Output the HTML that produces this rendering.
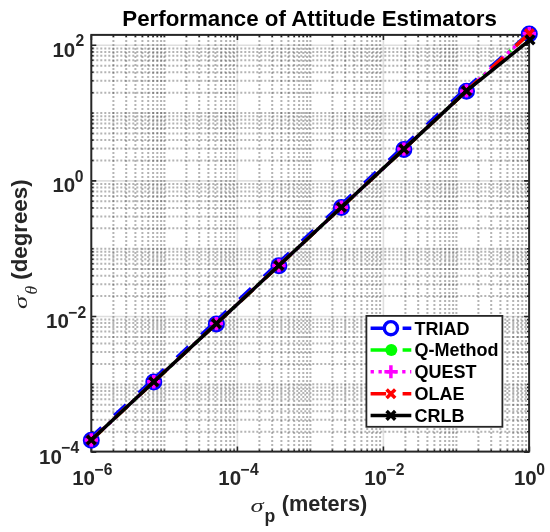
<!DOCTYPE html>
<html><head><meta charset="utf-8"><title>Performance of Attitude Estimators</title>
<style>html,body{margin:0;padding:0;background:#fff}svg{display:block}text{font-family:"Liberation Sans",sans-serif;font-weight:bold;fill:#262626}.g{font-family:"Liberation Serif",serif;font-style:italic;font-weight:normal}</style></head><body>
<svg width="550" height="532" viewBox="0 0 550 532">
<rect width="550" height="532" fill="#fff"/>
<path d="M237.4 34.9V451.6M383.4 34.9V451.6M91.3 316.5H529.1M91.3 180.9H529.1M91.3 45.3H529.1" stroke="#dedede" stroke-width="1.6" fill="none"/>
<path d="M113.4 35.9V450.6M126.2 35.9V450.6M135.4 35.9V450.6M142.4 35.9V450.6M148.2 35.9V450.6M153.1 35.9V450.6M157.3 35.9V450.6M161.1 35.9V450.6M164.4 35.9V450.6M186.4 35.9V450.6M199.2 35.9V450.6M208.4 35.9V450.6M215.4 35.9V450.6M221.2 35.9V450.6M226.1 35.9V450.6M230.3 35.9V450.6M234.1 35.9V450.6M259.4 35.9V450.6M272.2 35.9V450.6M281.4 35.9V450.6M288.4 35.9V450.6M294.2 35.9V450.6M299.1 35.9V450.6M303.3 35.9V450.6M307.1 35.9V450.6M310.4 35.9V450.6M332.4 35.9V450.6M345.2 35.9V450.6M354.4 35.9V450.6M361.4 35.9V450.6M367.2 35.9V450.6M372.1 35.9V450.6M376.3 35.9V450.6M380.1 35.9V450.6M405.4 35.9V450.6M418.2 35.9V450.6M427.4 35.9V450.6M434.4 35.9V450.6M440.2 35.9V450.6M445.1 35.9V450.6M449.3 35.9V450.6M453.1 35.9V450.6M456.4 35.9V450.6M478.4 35.9V450.6M491.2 35.9V450.6M500.4 35.9V450.6M507.4 35.9V450.6M513.2 35.9V450.6M518.1 35.9V450.6M522.3 35.9V450.6M526.1 35.9V450.6" stroke="#1a1a1a" stroke-width="2" stroke-dasharray="2 2" stroke-opacity="0.33" fill="none"/>
<path d="M92.3 431.7H528.1M92.3 419.8H528.1M92.3 411.3H528.1M92.3 404.7H528.1M92.3 399.3H528.1M92.3 394.8H528.1M92.3 390.9H528.1M92.3 387.4H528.1M92.3 384.3H528.1M92.3 363.9H528.1M92.3 352.0H528.1M92.3 343.5H528.1M92.3 336.9H528.1M92.3 331.5H528.1M92.3 327.0H528.1M92.3 323.1H528.1M92.3 319.6H528.1M92.3 296.1H528.1M92.3 284.2H528.1M92.3 275.7H528.1M92.3 269.1H528.1M92.3 263.7H528.1M92.3 259.2H528.1M92.3 255.3H528.1M92.3 251.8H528.1M92.3 248.7H528.1M92.3 228.3H528.1M92.3 216.4H528.1M92.3 207.9H528.1M92.3 201.3H528.1M92.3 195.9H528.1M92.3 191.4H528.1M92.3 187.5H528.1M92.3 184.0H528.1M92.3 160.5H528.1M92.3 148.6H528.1M92.3 140.1H528.1M92.3 133.5H528.1M92.3 128.1H528.1M92.3 123.6H528.1M92.3 119.7H528.1M92.3 116.2H528.1M92.3 113.1H528.1M92.3 92.7H528.1M92.3 80.8H528.1M92.3 72.3H528.1M92.3 65.7H528.1M92.3 60.3H528.1M92.3 55.8H528.1M92.3 51.9H528.1M92.3 48.4H528.1" stroke="#1a1a1a" stroke-width="2" stroke-dasharray="2 2" stroke-opacity="0.33" fill="none"/>
<path d="M91.4 451.6v-5.0M91.4 34.9v5.0M113.4 451.6v-2.2M113.4 34.9v2.2M126.2 451.6v-2.2M126.2 34.9v2.2M135.4 451.6v-2.2M135.4 34.9v2.2M142.4 451.6v-2.2M142.4 34.9v2.2M148.2 451.6v-2.2M148.2 34.9v2.2M153.1 451.6v-2.2M153.1 34.9v2.2M157.3 451.6v-2.2M157.3 34.9v2.2M161.1 451.6v-2.2M161.1 34.9v2.2M164.4 451.6v-2.2M164.4 34.9v2.2M186.4 451.6v-2.2M186.4 34.9v2.2M199.2 451.6v-2.2M199.2 34.9v2.2M208.4 451.6v-2.2M208.4 34.9v2.2M215.4 451.6v-2.2M215.4 34.9v2.2M221.2 451.6v-2.2M221.2 34.9v2.2M226.1 451.6v-2.2M226.1 34.9v2.2M230.3 451.6v-2.2M230.3 34.9v2.2M234.1 451.6v-2.2M234.1 34.9v2.2M237.4 451.6v-5.0M237.4 34.9v5.0M259.4 451.6v-2.2M259.4 34.9v2.2M272.2 451.6v-2.2M272.2 34.9v2.2M281.4 451.6v-2.2M281.4 34.9v2.2M288.4 451.6v-2.2M288.4 34.9v2.2M294.2 451.6v-2.2M294.2 34.9v2.2M299.1 451.6v-2.2M299.1 34.9v2.2M303.3 451.6v-2.2M303.3 34.9v2.2M307.1 451.6v-2.2M307.1 34.9v2.2M310.4 451.6v-2.2M310.4 34.9v2.2M332.4 451.6v-2.2M332.4 34.9v2.2M345.2 451.6v-2.2M345.2 34.9v2.2M354.4 451.6v-2.2M354.4 34.9v2.2M361.4 451.6v-2.2M361.4 34.9v2.2M367.2 451.6v-2.2M367.2 34.9v2.2M372.1 451.6v-2.2M372.1 34.9v2.2M376.3 451.6v-2.2M376.3 34.9v2.2M380.1 451.6v-2.2M380.1 34.9v2.2M383.4 451.6v-5.0M383.4 34.9v5.0M405.4 451.6v-2.2M405.4 34.9v2.2M418.2 451.6v-2.2M418.2 34.9v2.2M427.4 451.6v-2.2M427.4 34.9v2.2M434.4 451.6v-2.2M434.4 34.9v2.2M440.2 451.6v-2.2M440.2 34.9v2.2M445.1 451.6v-2.2M445.1 34.9v2.2M449.3 451.6v-2.2M449.3 34.9v2.2M453.1 451.6v-2.2M453.1 34.9v2.2M456.4 451.6v-2.2M456.4 34.9v2.2M478.4 451.6v-2.2M478.4 34.9v2.2M491.2 451.6v-2.2M491.2 34.9v2.2M500.4 451.6v-2.2M500.4 34.9v2.2M507.4 451.6v-2.2M507.4 34.9v2.2M513.2 451.6v-2.2M513.2 34.9v2.2M518.1 451.6v-2.2M518.1 34.9v2.2M522.3 451.6v-2.2M522.3 34.9v2.2M526.1 451.6v-2.2M526.1 34.9v2.2M529.4 451.6v-5.0M529.4 34.9v5.0M91.3 452.1h5.0M529.1 452.1h-5.0M91.3 431.7h2.2M529.1 431.7h-2.2M91.3 419.8h2.2M529.1 419.8h-2.2M91.3 411.3h2.2M529.1 411.3h-2.2M91.3 404.7h2.2M529.1 404.7h-2.2M91.3 399.3h2.2M529.1 399.3h-2.2M91.3 394.8h2.2M529.1 394.8h-2.2M91.3 390.9h2.2M529.1 390.9h-2.2M91.3 387.4h2.2M529.1 387.4h-2.2M91.3 384.3h2.2M529.1 384.3h-2.2M91.3 363.9h2.2M529.1 363.9h-2.2M91.3 352.0h2.2M529.1 352.0h-2.2M91.3 343.5h2.2M529.1 343.5h-2.2M91.3 336.9h2.2M529.1 336.9h-2.2M91.3 331.5h2.2M529.1 331.5h-2.2M91.3 327.0h2.2M529.1 327.0h-2.2M91.3 323.1h2.2M529.1 323.1h-2.2M91.3 319.6h2.2M529.1 319.6h-2.2M91.3 316.5h5.0M529.1 316.5h-5.0M91.3 296.1h2.2M529.1 296.1h-2.2M91.3 284.2h2.2M529.1 284.2h-2.2M91.3 275.7h2.2M529.1 275.7h-2.2M91.3 269.1h2.2M529.1 269.1h-2.2M91.3 263.7h2.2M529.1 263.7h-2.2M91.3 259.2h2.2M529.1 259.2h-2.2M91.3 255.3h2.2M529.1 255.3h-2.2M91.3 251.8h2.2M529.1 251.8h-2.2M91.3 248.7h2.2M529.1 248.7h-2.2M91.3 228.3h2.2M529.1 228.3h-2.2M91.3 216.4h2.2M529.1 216.4h-2.2M91.3 207.9h2.2M529.1 207.9h-2.2M91.3 201.3h2.2M529.1 201.3h-2.2M91.3 195.9h2.2M529.1 195.9h-2.2M91.3 191.4h2.2M529.1 191.4h-2.2M91.3 187.5h2.2M529.1 187.5h-2.2M91.3 184.0h2.2M529.1 184.0h-2.2M91.3 180.9h5.0M529.1 180.9h-5.0M91.3 160.5h2.2M529.1 160.5h-2.2M91.3 148.6h2.2M529.1 148.6h-2.2M91.3 140.1h2.2M529.1 140.1h-2.2M91.3 133.5h2.2M529.1 133.5h-2.2M91.3 128.1h2.2M529.1 128.1h-2.2M91.3 123.6h2.2M529.1 123.6h-2.2M91.3 119.7h2.2M529.1 119.7h-2.2M91.3 116.2h2.2M529.1 116.2h-2.2M91.3 113.1h2.2M529.1 113.1h-2.2M91.3 92.7h2.2M529.1 92.7h-2.2M91.3 80.8h2.2M529.1 80.8h-2.2M91.3 72.3h2.2M529.1 72.3h-2.2M91.3 65.7h2.2M529.1 65.7h-2.2M91.3 60.3h2.2M529.1 60.3h-2.2M91.3 55.8h2.2M529.1 55.8h-2.2M91.3 51.9h2.2M529.1 51.9h-2.2M91.3 48.4h2.2M529.1 48.4h-2.2M91.3 45.3h5.0M529.1 45.3h-5.0" stroke="#262626" stroke-width="1.6" fill="none"/>
<rect x="91.3" y="34.9" width="437.8" height="416.7" fill="none" stroke="#262626" stroke-width="2"/>
<path d="M89.8 438.4L152.3 380.2M152.3 380.2L214.9 322.0M214.9 322.0L277.4 263.9M277.4 263.9L339.9 205.7M339.9 205.7L402.4 147.5M402.4 147.5L465.0 89.3M465.0 89.3L529.0 33.3" fill="none" stroke="#0000ff" stroke-width="3.5" stroke-dasharray="16 17.4"/>
<circle cx="91.3" cy="440.3" r="6.5" fill="none" stroke="#0000ff" stroke-width="4"/>
<circle cx="153.8" cy="382.1" r="6.5" fill="none" stroke="#0000ff" stroke-width="4"/>
<circle cx="216.4" cy="323.9" r="6.5" fill="none" stroke="#0000ff" stroke-width="4"/>
<circle cx="278.9" cy="265.8" r="6.5" fill="none" stroke="#0000ff" stroke-width="4"/>
<circle cx="341.4" cy="207.6" r="6.5" fill="none" stroke="#0000ff" stroke-width="4"/>
<circle cx="403.9" cy="149.4" r="6.5" fill="none" stroke="#0000ff" stroke-width="4"/>
<circle cx="466.5" cy="91.2" r="6.5" fill="none" stroke="#0000ff" stroke-width="4"/>
<circle cx="529.3" cy="33.9" r="6.5" fill="none" stroke="#0000ff" stroke-width="4"/>
<path d="M91.3 440.0L153.8 381.8M153.8 381.8L216.4 323.6M216.4 323.6L278.9 265.5M278.9 265.5L341.4 207.3M341.4 207.3L403.9 149.1M403.9 149.1L466.5 90.9M466.5 90.9L529.3 33.6" fill="none" stroke="#00ff00" stroke-width="3.5" stroke-dasharray="16 6.7 4 6.7"/>
<circle cx="91.3" cy="440.0" r="4" fill="#00ff00"/>
<circle cx="153.8" cy="381.8" r="4" fill="#00ff00"/>
<circle cx="216.4" cy="323.6" r="4" fill="#00ff00"/>
<circle cx="278.9" cy="265.5" r="4" fill="#00ff00"/>
<circle cx="341.4" cy="207.3" r="4" fill="#00ff00"/>
<circle cx="403.9" cy="149.1" r="4" fill="#00ff00"/>
<circle cx="466.5" cy="90.9" r="4" fill="#00ff00"/>
<circle cx="529.3" cy="33.6" r="4" fill="#00ff00"/>
<path d="M91.3 440.0L153.8 381.8M153.8 381.8L216.4 323.6M216.4 323.6L278.9 265.5M278.9 265.5L341.4 207.3M341.4 207.3L403.9 149.1M403.9 149.1L466.5 90.9M466.5 90.9L529.3 33.6" fill="none" stroke="#ff00ff" stroke-width="3.5" stroke-dasharray="3.3 4.6"/>
<path d="M84.6 440.0h13.4M91.3 433.3v13.4" stroke="#ff00ff" stroke-width="3.5" fill="none"/>
<path d="M147.1 381.8h13.4M153.8 375.1v13.4" stroke="#ff00ff" stroke-width="3.5" fill="none"/>
<path d="M209.7 323.6h13.4M216.4 316.9v13.4" stroke="#ff00ff" stroke-width="3.5" fill="none"/>
<path d="M272.2 265.5h13.4M278.9 258.8v13.4" stroke="#ff00ff" stroke-width="3.5" fill="none"/>
<path d="M334.7 207.3h13.4M341.4 200.6v13.4" stroke="#ff00ff" stroke-width="3.5" fill="none"/>
<path d="M397.2 149.1h13.4M403.9 142.4v13.4" stroke="#ff00ff" stroke-width="3.5" fill="none"/>
<path d="M459.8 90.9h13.4M466.5 84.2v13.4" stroke="#ff00ff" stroke-width="3.5" fill="none"/>
<path d="M522.6 33.6h13.4M529.3 26.9v13.4" stroke="#ff00ff" stroke-width="3.5" fill="none"/>
<path d="M91.3 440.0L153.8 381.8M153.8 381.8L216.4 323.6M216.4 323.6L278.9 265.5M278.9 265.5L341.4 207.3M341.4 207.3L403.9 149.1M403.9 149.1L466.5 90.9M466.5 90.9L529.3 33.6" fill="none" stroke="#ff0000" stroke-width="3.5" stroke-dasharray="16 17.4"/>
<path d="M87.0 435.7l8.6 8.6M87.0 444.3l8.6 -8.6" stroke="#ff0000" stroke-width="3.5" fill="none"/>
<path d="M149.5 377.5l8.6 8.6M149.5 386.1l8.6 -8.6" stroke="#ff0000" stroke-width="3.5" fill="none"/>
<path d="M212.1 319.3l8.6 8.6M212.1 327.9l8.6 -8.6" stroke="#ff0000" stroke-width="3.5" fill="none"/>
<path d="M274.6 261.2l8.6 8.6M274.6 269.8l8.6 -8.6" stroke="#ff0000" stroke-width="3.5" fill="none"/>
<path d="M337.1 203.0l8.6 8.6M337.1 211.6l8.6 -8.6" stroke="#ff0000" stroke-width="3.5" fill="none"/>
<path d="M399.6 144.8l8.6 8.6M399.6 153.4l8.6 -8.6" stroke="#ff0000" stroke-width="3.5" fill="none"/>
<path d="M462.2 86.6l8.6 8.6M462.2 95.2l8.6 -8.6" stroke="#ff0000" stroke-width="3.5" fill="none"/>
<path d="M525.0 29.3l8.6 8.6M525.0 37.9l8.6 -8.6" stroke="#ff0000" stroke-width="3.5" fill="none"/>
<polyline points="91.3,440.0 153.8,381.8 216.4,323.6 278.9,265.5 341.4,207.3 403.9,149.1 466.5,90.9 530.0,39.9" fill="none" stroke="#000" stroke-width="3.5" stroke-linejoin="round"/>
<path d="M87.0 435.7l8.6 8.6M87.0 444.3l8.6 -8.6" stroke="#000" stroke-width="3.5" fill="none"/>
<path d="M149.5 377.5l8.6 8.6M149.5 386.1l8.6 -8.6" stroke="#000" stroke-width="3.5" fill="none"/>
<path d="M212.1 319.3l8.6 8.6M212.1 327.9l8.6 -8.6" stroke="#000" stroke-width="3.5" fill="none"/>
<path d="M274.6 261.2l8.6 8.6M274.6 269.8l8.6 -8.6" stroke="#000" stroke-width="3.5" fill="none"/>
<path d="M337.1 203.0l8.6 8.6M337.1 211.6l8.6 -8.6" stroke="#000" stroke-width="3.5" fill="none"/>
<path d="M399.6 144.8l8.6 8.6M399.6 153.4l8.6 -8.6" stroke="#000" stroke-width="3.5" fill="none"/>
<path d="M462.2 86.6l8.6 8.6M462.2 95.2l8.6 -8.6" stroke="#000" stroke-width="3.5" fill="none"/>
<path d="M525.7 35.6l8.6 8.6M525.7 44.2l8.6 -8.6" stroke="#000" stroke-width="3.5" fill="none"/>
<rect x="366.4" y="315.9" width="136.0" height="110.9" fill="#fff" stroke="#262626" stroke-width="1.8"/>
<path d="M370.6 328.2H411.3" stroke="#0000ff" stroke-width="3.5" stroke-dasharray="15.5 16.5" fill="none"/>
<circle cx="390.9" cy="328.2" r="6.6" fill="#fff" stroke="#0000ff" stroke-width="3.4"/>
<path d="M370.6 350.0H411.3" stroke="#00ff00" stroke-width="3.5" stroke-dasharray="15.5 16.5" fill="none"/>
<circle cx="391.3" cy="350.0" r="6.0" fill="#00ff00"/>
<path d="M370.6 371.8H411.3" stroke="#ff00ff" stroke-width="3.5" stroke-dasharray="3.3 4.6" fill="none"/>
<path d="M384.4 371.8h13M390.9 365.3v13" stroke="#ff00ff" stroke-width="3.5" fill="none"/>
<path d="M370.6 393.7H411.3" stroke="#ff0000" stroke-width="3.5" stroke-dasharray="15.5 16.5" fill="none"/>
<path d="M386.6 389.4l8.6 8.6M386.6 398.0l8.6 -8.6" stroke="#ff0000" stroke-width="3.5" fill="none"/>
<path d="M370.6 415.4H411.3" stroke="#000" stroke-width="3.5" fill="none"/>
<path d="M386.6 411.1l8.6 8.6M386.6 419.7l8.6 -8.6" stroke="#000" stroke-width="3.5" fill="none"/>
<text x="414.4" y="334.5" font-size="18" style="fill:#000">TRIAD</text>
<text x="414.4" y="356.3" font-size="18" style="fill:#000">Q-Method</text>
<text x="414.4" y="378.1" font-size="18" style="fill:#000">QUEST</text>
<text x="414.4" y="400.0" font-size="18" style="fill:#000">OLAE</text>
<text x="414.4" y="421.7" font-size="18" style="fill:#000">CRLB</text>
<text x="309.6" y="26" font-size="22.3" text-anchor="middle" style="fill:#000">Performance of Attitude Estimators</text>
<text x="72.2" y="485.0" font-size="20.5">10</text><text x="94.2" y="474.7" font-size="15.7">−</text><text x="103.8" y="474.7" font-size="15.7">6</text>
<text x="218.3" y="485.0" font-size="20.5">10</text><text x="240.3" y="474.7" font-size="15.7">−</text><text x="249.9" y="474.7" font-size="15.7">4</text>
<text x="364.2" y="485.0" font-size="20.5">10</text><text x="386.2" y="474.7" font-size="15.7">−</text><text x="395.8" y="474.7" font-size="15.7">2</text>
<text x="513.9" y="485.0" font-size="20.5">10</text><text x="536.2" y="474.7" font-size="15.7">0</text>
<text x="52.4" y="56.7" font-size="20.5">10</text><text x="75.5" y="46.4" font-size="15.7">2</text>
<text x="52.4" y="192.3" font-size="20.5">10</text><text x="74.7" y="182.0" font-size="15.7">0</text>
<text x="46.0" y="327.9" font-size="20.5">10</text><text x="68.0" y="317.6" font-size="15.7">−</text><text x="77.6" y="317.6" font-size="15.7">2</text>
<text x="39.0" y="463.5" font-size="20.5">10</text><text x="61.0" y="453.2" font-size="15.7">−</text><text x="70.6" y="453.2" font-size="15.7">4</text>
<text class="g" transform="translate(250.4,511.8) scale(1.4,1.02)" font-size="19">σ</text>
<text x="264.6" y="522.4" font-size="17.6">p</text>
<text x="281.7" y="511" font-size="21.7">(meters)</text>
<g transform="translate(26.7,0) rotate(-90)"><text class="g" transform="translate(-308.9,0.3) scale(1.4,1.02)" font-size="19">σ</text><text class="g" x="-294.6" y="10" font-size="17.5">θ</text><text x="-279.8" y="0" font-size="22.3">(degrees)</text></g>
</svg></body></html>
